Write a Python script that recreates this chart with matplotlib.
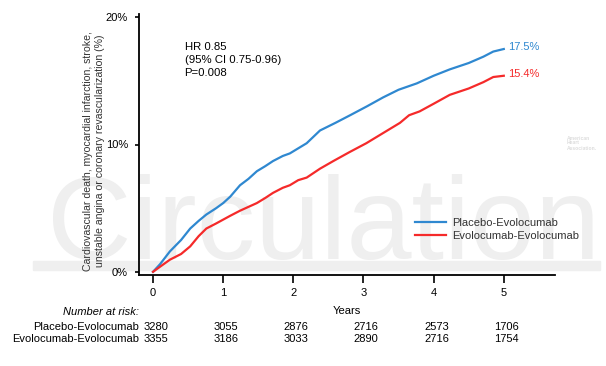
import matplotlib
matplotlib.use("Agg")
import matplotlib.pyplot as plt
from matplotlib.transforms import blended_transform_factory
from matplotlib.patches import Rectangle

plt.rcParams['font.family'] = ['Liberation Sans', 'DejaVu Sans']

# ---- data ----
years_pe = [0, 0.1, 0.24, 0.4, 0.53, 0.65, 0.76, 0.9, 1.0, 1.1, 1.24, 1.36, 1.48, 1.6,
            1.71, 1.85, 1.95, 2.07, 2.19, 2.38, 2.6, 2.81, 3.05, 3.28, 3.5, 3.76, 4.0,
            4.23, 4.5, 4.71, 4.85, 5.0]
rate_pe = [0, 0.6, 1.6, 2.5, 3.4, 4.0, 4.5, 5.0, 5.4, 5.9, 6.8, 7.3, 7.9, 8.3,
           8.7, 9.1, 9.3, 9.7, 10.1, 11.1, 11.7, 12.3, 13.0, 13.7, 14.3, 14.8, 15.4,
           15.9, 16.4, 16.9, 17.3, 17.5]
years_ee = [0, 0.1, 0.24, 0.4, 0.53, 0.65, 0.76, 0.9, 1.0, 1.1, 1.24, 1.36, 1.48, 1.6,
            1.71, 1.85, 1.95, 2.07, 2.19, 2.38, 2.57, 2.8, 3.04, 3.28, 3.52, 3.65, 3.8,
            4.0, 4.23, 4.5, 4.71, 4.85, 5.0]
rate_ee = [0, 0.4, 0.95, 1.4, 2.0, 2.8, 3.4, 3.8, 4.1, 4.4, 4.8, 5.1, 5.4, 5.8,
           6.2, 6.6, 6.8, 7.2, 7.4, 8.1, 8.7, 9.4, 10.1, 10.9, 11.7, 12.3, 12.6,
           13.2, 13.9, 14.4, 14.9, 15.3, 15.4]

series_names = ['Placebo-Evolocumab', 'Evolocumab-Evolocumab']
end_labels = ['17.5%', '15.4%']
risk_years = [0, 1, 2, 3, 4, 5]
risk_pe = [3280, 3055, 2876, 2716, 2573, 1706]
risk_ee = [3355, 3186, 3033, 2890, 2716, 1754]
x_ticks = [0, 1, 2, 3, 4, 5]
y_ticks = [0, 10, 20]
y_ticklabels = ['0%', '10%', '20%']

blue = '#2f88d0'
red = '#f52a2a'
wm = '#efefef'

fig = plt.figure(figsize=(6.06, 3.66), dpi=100)
W, H = 606, 366
ax = fig.add_axes([139 / W, 1 - 275 / H, (555 - 139) / W, (275 - 14) / H])
ax.set_facecolor('none')

# watermark (journal logo text + bar, AHA text)
wt = fig.text(47 / W, 1 - 259 / H, 'Circulation', fontsize=86, color=wm,
              ha='left', va='baseline', zorder=-5)
r = fig.canvas.get_renderer()
bb = wt.get_window_extent(r)
wt.set_fontsize(86 * (600 - 47) / bb.width)
fig.patches.append(Rectangle((33 / W, 1 - 270 / H), (600 - 33) / W, 9 / H,
                             transform=fig.transFigure, color=wm, zorder=-6))
fig.text(567 / W, 1 - 143 / H, 'American\nHeart\nAssociation.', fontsize=3.6,
         color='#dddddd', ha='left', va='center', fontweight='bold',
         linespacing=1.0, zorder=-5)

ax.plot(years_pe, rate_pe, color=blue, lw=1.6, label=series_names[0])
ax.plot(years_ee, rate_ee, color=red, lw=1.6, label=series_names[1])

ax.text(years_pe[-1] + 0.06, rate_pe[-1] + 0.15, end_labels[0], color=blue,
        fontsize=8, ha='left', va='center')
ax.text(years_ee[-1] + 0.06, rate_ee[-1] + 0.1, end_labels[1], color=red,
        fontsize=8, ha='left', va='center')

ax.text(0.45, 18.05, 'HR 0.85\n(95% CI 0.75-0.96)\nP=0.008', fontsize=8.2,
        ha='left', va='top', linespacing=1.35)

ax.set_xlim(-0.2, 5.73)
ax.set_ylim(-0.25, 20.25)
ax.set_xticks(x_ticks)
ax.set_xticklabels([str(v) for v in x_ticks])
ax.set_yticks(y_ticks)
ax.set_yticklabels(y_ticklabels)
ax.tick_params(axis='x', length=6, width=1.2, pad=3.5, labelsize=8)
ax.tick_params(axis='y', length=3, width=1.2, pad=5, labelsize=8)
for s in ['top', 'right']:
    ax.spines[s].set_visible(False)
for s in ['left', 'bottom']:
    ax.spines[s].set_linewidth(1.3)

fig.text(347 / W, 1 - 311 / H, 'Years', fontsize=8, ha='center', va='center')
fig.text(94 / W, 1 - 151 / H,
         'Cardiovascular death, myocardial infarction, stroke,\n'
         'unstable angina or coronary revascularization (%)',
         rotation=90, fontsize=7.6, ha='center', va='center',
         multialignment='center', linespacing=1.35, color='#333333')

leg = ax.legend(loc='center left', bbox_to_anchor=(0.64, 0.175), frameon=False,
                fontsize=8, handlelength=2.8, handletextpad=0.5, labelspacing=0.25)
for t in leg.get_texts():
    t.set_color('#333333')

# number at risk table
tr = blended_transform_factory(ax.transData, fig.transFigure)
fig.text(139 / W, 1 - 312 / H, 'Number at risk:', fontsize=8, style='italic',
         ha='right', va='center')
fig.text(139 / W, 1 - 327 / H, series_names[0], fontsize=8, ha='right', va='center')
fig.text(139 / W, 1 - 339 / H, series_names[1], fontsize=8, ha='right', va='center')
for x, a, b in zip(risk_years, risk_pe, risk_ee):
    fig.text(x + 0.04, 1 - 327 / H, str(a), fontsize=8, ha='center', va='center', transform=tr)
    fig.text(x + 0.04, 1 - 339 / H, str(b), fontsize=8, ha='center', va='center', transform=tr)

fig.savefig('out.png', dpi=100)
